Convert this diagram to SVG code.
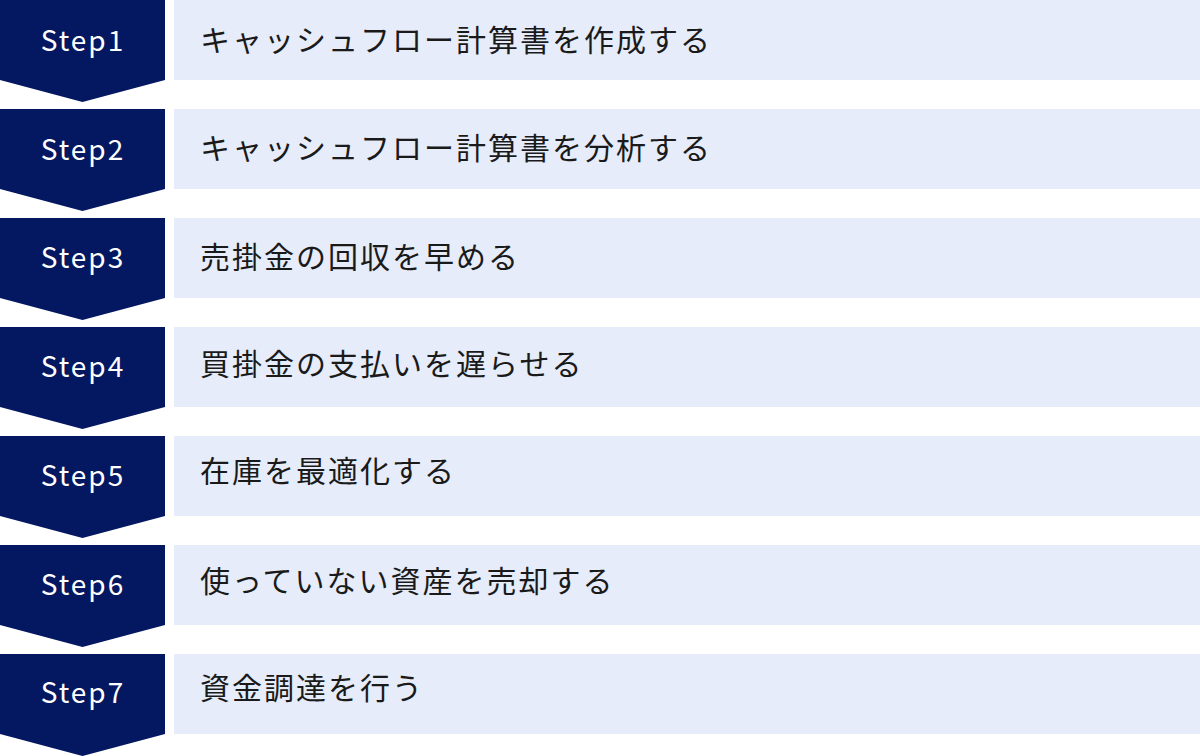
<svg xmlns="http://www.w3.org/2000/svg" width="1200" height="756" viewBox="0 0 1200 756">
<style>
.chev{fill:#041761}
.box{fill:#e6ecf9}
.step{font-family:"Noto Sans CJK JP","Noto Sans",sans-serif;font-size:28px;fill:#ffffff;text-anchor:middle;letter-spacing:2px}
.lbl{font-family:"Noto Sans CJK JP","Noto Sans",sans-serif;font-size:30px;fill:#1a1a1a;letter-spacing:2px}
</style>
<rect width="1200" height="756" fill="#ffffff"/>
<defs>
<polygon id="chev" points="0,0 165,0 165,80 82.5,102 0,80"/>
</defs>
<g id="step1"><use href="#chev" class="chev" y="0"/><rect class="box" x="174" y="0" width="1026" height="80"/><text class="step" x="83" y="51">Step1</text><text class="lbl" x="200" y="51">キャッシュフロー計算書を作成する</text></g>
<g id="step2"><use href="#chev" class="chev" y="109"/><rect class="box" x="174" y="109" width="1026" height="80"/><text class="step" x="83" y="160">Step2</text><text class="lbl" x="200" y="159">キャッシュフロー計算書を分析する</text></g>
<g id="step3"><use href="#chev" class="chev" y="218"/><rect class="box" x="174" y="218" width="1026" height="80"/><text class="step" x="83" y="268">Step3</text><text class="lbl" x="200" y="268">売掛金の回収を早める</text></g>
<g id="step4"><use href="#chev" class="chev" y="327"/><rect class="box" x="174" y="327" width="1026" height="80"/><text class="step" x="83" y="377">Step4</text><text class="lbl" x="200" y="375">買掛金の支払いを遅らせる</text></g>
<g id="step5"><use href="#chev" class="chev" y="436"/><rect class="box" x="174" y="436" width="1026" height="80"/><text class="step" x="83" y="486">Step5</text><text class="lbl" x="200" y="482">在庫を最適化する</text></g>
<g id="step6"><use href="#chev" class="chev" y="545"/><rect class="box" x="174" y="545" width="1026" height="80"/><text class="step" x="83" y="595">Step6</text><text class="lbl" x="200" y="592">使っていない資産を売却する</text></g>
<g id="step7"><use href="#chev" class="chev" y="654"/><rect class="box" x="174" y="654" width="1026" height="80"/><text class="step" x="83" y="703">Step7</text><text class="lbl" x="200" y="699">資金調達を行う</text></g>
<g id="connectors"></g>
</svg>
